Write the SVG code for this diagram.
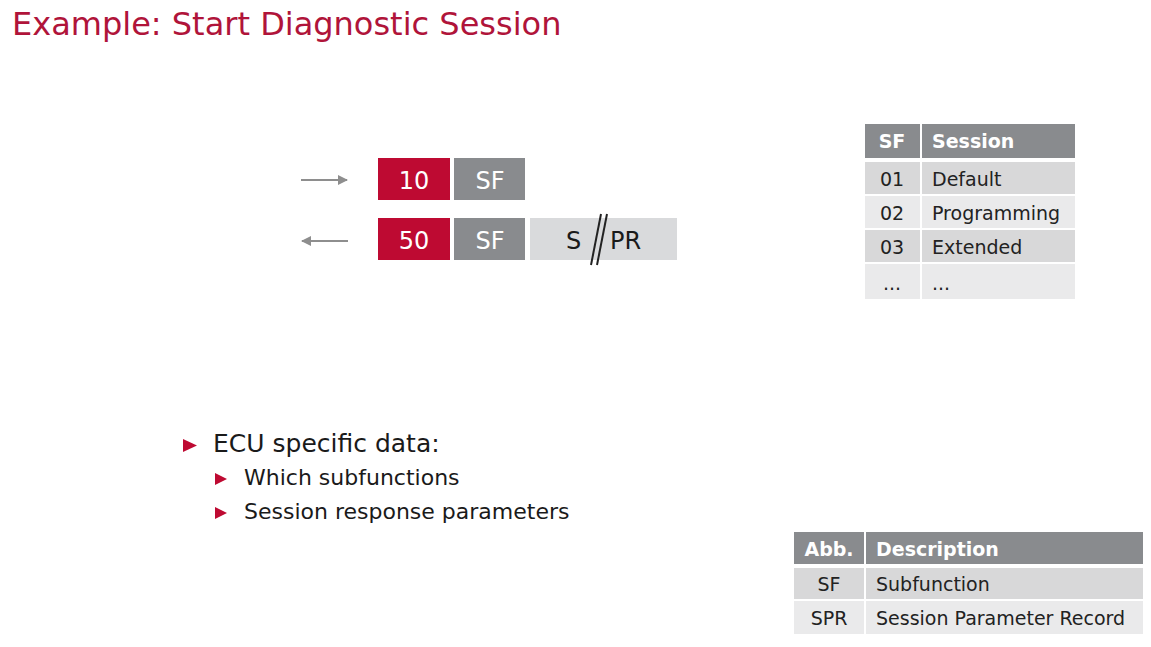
<svg xmlns="http://www.w3.org/2000/svg" width="1151" height="647" viewBox="0 0 1151 647">
<defs>
<style>
text{font-family:Verdana,"DejaVu Sans",sans-serif}
.red{fill:#BE0A32}
.dg{fill:#898B8E}
.lg{fill:#D9DADC}
.bw{fill:#fff;font-size:24px;text-anchor:middle}
.bk{fill:#1a1a1a;font-size:24px}
.th{fill:#fff;font-size:19px;font-weight:bold}
.td{fill:#222;font-size:19px}
.r1{fill:#D8D8D9}
.r2{fill:#EAEAEB}
.arr{stroke:#8E8E8E;stroke-width:2;fill:none}
</style>
<marker id="ah" viewBox="0 0 10 10" refX="9" refY="5" markerWidth="5" markerHeight="5" orient="auto"><path d="M0,0 L10,5 L0,10 z" fill="#8E8E8E"/></marker>
</defs>
<rect width="1151" height="647" fill="#fff"/>
<text x="12" y="35" font-size="32" fill="#B0143A">Example: Start Diagnostic Session</text>
<g id="connectors">
<line class="arr" x1="301" y1="180" x2="347" y2="180" marker-end="url(#ah)"/>
<line class="arr" x1="348" y1="241" x2="302" y2="241" marker-end="url(#ah)"/>
</g>
<g id="req-sid"><rect class="red" x="378" y="158" width="72" height="42"/><text class="bw" x="414" y="189">10</text></g>
<g id="req-sf"><rect class="dg" x="454" y="158" width="71" height="42"/><text class="bw" x="490" y="189">SF</text></g>
<g id="res-sid"><rect class="red" x="378" y="218" width="72" height="42"/><text class="bw" x="414" y="249">50</text></g>
<g id="res-sf"><rect class="dg" x="454" y="218" width="71" height="42"/><text class="bw" x="490" y="249">SF</text></g>
<g id="res-spr"><rect class="lg" x="530" y="218" width="147" height="42"/>
<text class="bk" x="566" y="249">S</text><text class="bk" x="610" y="249">PR</text>
<line x1="591" y1="265" x2="601" y2="214" stroke="#222" stroke-width="2"/>
<line x1="597" y1="265" x2="607" y2="214" stroke="#222" stroke-width="2"/>
</g>
<g id="session-table">
<rect class="dg" x="865" y="124" width="55" height="34"/><rect class="dg" x="922" y="124" width="153" height="34"/>
<text class="th" x="892" y="148" text-anchor="middle">SF</text><text class="th" x="932" y="148">Session</text>
<rect class="r1" x="865" y="162" width="55" height="32"/><rect class="r1" x="922" y="162" width="153" height="32"/>
<rect class="r2" x="865" y="196" width="55" height="32"/><rect class="r2" x="922" y="196" width="153" height="32"/>
<rect class="r1" x="865" y="230" width="55" height="32"/><rect class="r1" x="922" y="230" width="153" height="32"/>
<rect class="r2" x="865" y="264" width="55" height="35"/><rect class="r2" x="922" y="264" width="153" height="35"/>
<text class="td" x="892" y="186" text-anchor="middle">01</text><text class="td" x="932" y="186">Default</text>
<text class="td" x="892" y="220" text-anchor="middle">02</text><text class="td" x="932" y="220">Programming</text>
<text class="td" x="892" y="254" text-anchor="middle">03</text><text class="td" x="932" y="254">Extended</text>
<text class="td" x="892" y="290" text-anchor="middle">...</text><text class="td" x="932" y="290">...</text>
</g>
<g id="bullets">
<path class="red" d="M183,439 L197,445.5 L183,452 z"/>
<text x="213" y="452" font-size="25" fill="#1a1a1a">ECU specific data:</text>
<path class="red" d="M215,473 L227,479 L215,485 z"/>
<text x="244" y="485" font-size="22" fill="#1a1a1a">Which subfunctions</text>
<path class="red" d="M215,507 L227,513 L215,519 z"/>
<text x="244" y="519" font-size="22" fill="#1a1a1a">Session response parameters</text>
</g>
<g id="abb-table">
<rect class="dg" x="794" y="532" width="70" height="32"/><rect class="dg" x="866" y="532" width="277" height="32"/>
<text class="th" x="829" y="556" text-anchor="middle">Abb.</text><text class="th" x="876" y="556">Description</text>
<rect class="r1" x="794" y="568" width="70" height="31"/><rect class="r1" x="866" y="568" width="277" height="31"/>
<rect class="r2" x="794" y="601" width="70" height="33"/><rect class="r2" x="866" y="601" width="277" height="33"/>
<text class="td" x="829" y="591" text-anchor="middle">SF</text><text class="td" x="876" y="591">Subfunction</text>
<text class="td" x="829" y="625" text-anchor="middle">SPR</text><text class="td" x="876" y="625">Session Parameter Record</text>
</g>
</svg>
